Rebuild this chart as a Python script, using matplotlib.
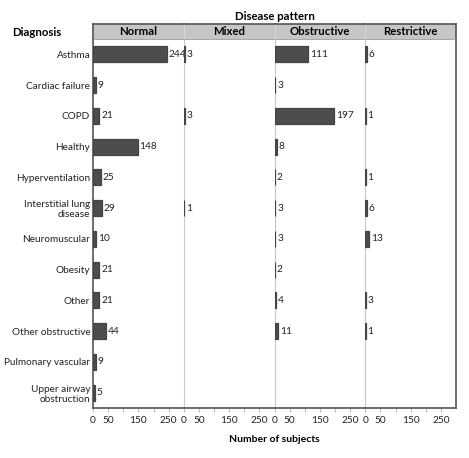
import numpy as np
import matplotlib.pyplot as plt

plt.rcParams['font.family'] = ['Lato', 'DejaVu Sans']

diagnoses = ['Asthma', 'Cardiac failure', 'COPD', 'Healthy', 'Hyperventilation',
             'Interstitial lung\ndisease', 'Neuromuscular', 'Obesity', 'Other',
             'Other obstructive', 'Pulmonary vascular', 'Upper airway\nobstruction']
patterns = ['Normal', 'Mixed', 'Obstructive', 'Restrictive']

normal = [244, 9, 21, 148, 25, 29, 10, 21, 21, 44, 9, 5]
mixed = [3, 0, 3, 0, 0, 1, 0, 0, 0, 0, 0, 0]
obstructive = [111, 3, 197, 8, 2, 3, 3, 2, 4, 11, 0, 0]
restrictive = [6, 0, 1, 0, 1, 6, 13, 0, 3, 1, 0, 0]
counts = [normal, mixed, obstructive, restrictive]

fig = plt.figure(figsize=(4.69, 4.58), dpi=100)
left, right, bottom, top = 93 / 469, 456 / 469, 1 - 408 / 458, 1 - 39 / 458
pw = (right - left) / 4
y = np.arange(len(diagnoses))
dark = '#555555'
light = '#c8c8c8'

for i, (name, vals) in enumerate(zip(patterns, counts)):
    ax = fig.add_axes([left + i * pw, bottom, pw, top - bottom])
    vals = np.array(vals)
    m = vals > 0
    ax.barh(y[m], vals[m], height=0.52, color='#4d4d4d', edgecolor='#444444',
            linewidth=0.9, zorder=3)
    for yy, v in zip(y[m], vals[m]):
        ax.text(v + 6, yy, str(v), va='center', ha='left', fontsize=7.3, color='#222222')
    ax.set_xlim(0, 300)
    ax.set_ylim(len(diagnoses) - 0.5, -0.5)
    ax.set_xticks([0, 50, 100, 150, 200, 250])
    ax.set_xticklabels(['0', '50', '', '150', '', '250'])
    ax.tick_params(axis='x', length=3, color='#bbbbbb', labelsize=7.3, pad=3, labelcolor='#222222')
    for s in ax.spines.values():
        s.set_color(light)
        s.set_linewidth(0.8)
    ax.spines['top'].set_visible(False)
    ax.spines['bottom'].set_color(dark)
    ax.spines['bottom'].set_linewidth(1.2)
    if i == 0:
        ax.set_yticks(y)
        ax.set_yticklabels(diagnoses, fontsize=7.2, color='#222222', linespacing=1.15)
        ax.tick_params(axis='y', length=0, pad=2)
        ax.spines['left'].set_color(dark)
        ax.spines['left'].set_linewidth(1.2)
    else:
        ax.set_yticks([])
    if i == 3:
        ax.spines['right'].set_color(dark)
        ax.spines['right'].set_linewidth(1.2)
    else:
        ax.spines['right'].set_visible(False)

    hax = fig.add_axes([left + i * pw, top, pw, 15 / 458])
    hax.set_facecolor('#c6c6c6')
    hax.set_xticks([])
    hax.set_yticks([])
    for s in hax.spines.values():
        s.set_color('#dddddd')
        s.set_linewidth(0.6)
    hax.spines['top'].set_color(dark)
    hax.spines['top'].set_linewidth(1.2)
    hax.spines['bottom'].set_color('#999999')
    if i == 0:
        hax.spines['left'].set_color(dark)
        hax.spines['left'].set_linewidth(1.2)
    if i == 3:
        hax.spines['right'].set_color(dark)
        hax.spines['right'].set_linewidth(1.2)
    hax.text(0.5, 0.5, name, ha='center', va='center', fontsize=8.2, fontweight='bold',
             transform=hax.transAxes)

fig.text((left + right) / 2, 1 - 16 / 458, 'Disease pattern', ha='center', va='center',
         fontsize=8.2, fontweight='bold')
fig.text(12 / 469, 1 - 33 / 458, 'Diagnosis', ha='left', va='center', fontsize=8.2, fontweight='bold')
fig.text((left + right) / 2, 1 - 440 / 458, 'Number of subjects', ha='center', va='center',
         fontsize=7.5, fontweight='bold')

fig.savefig('out.png', dpi=100)
